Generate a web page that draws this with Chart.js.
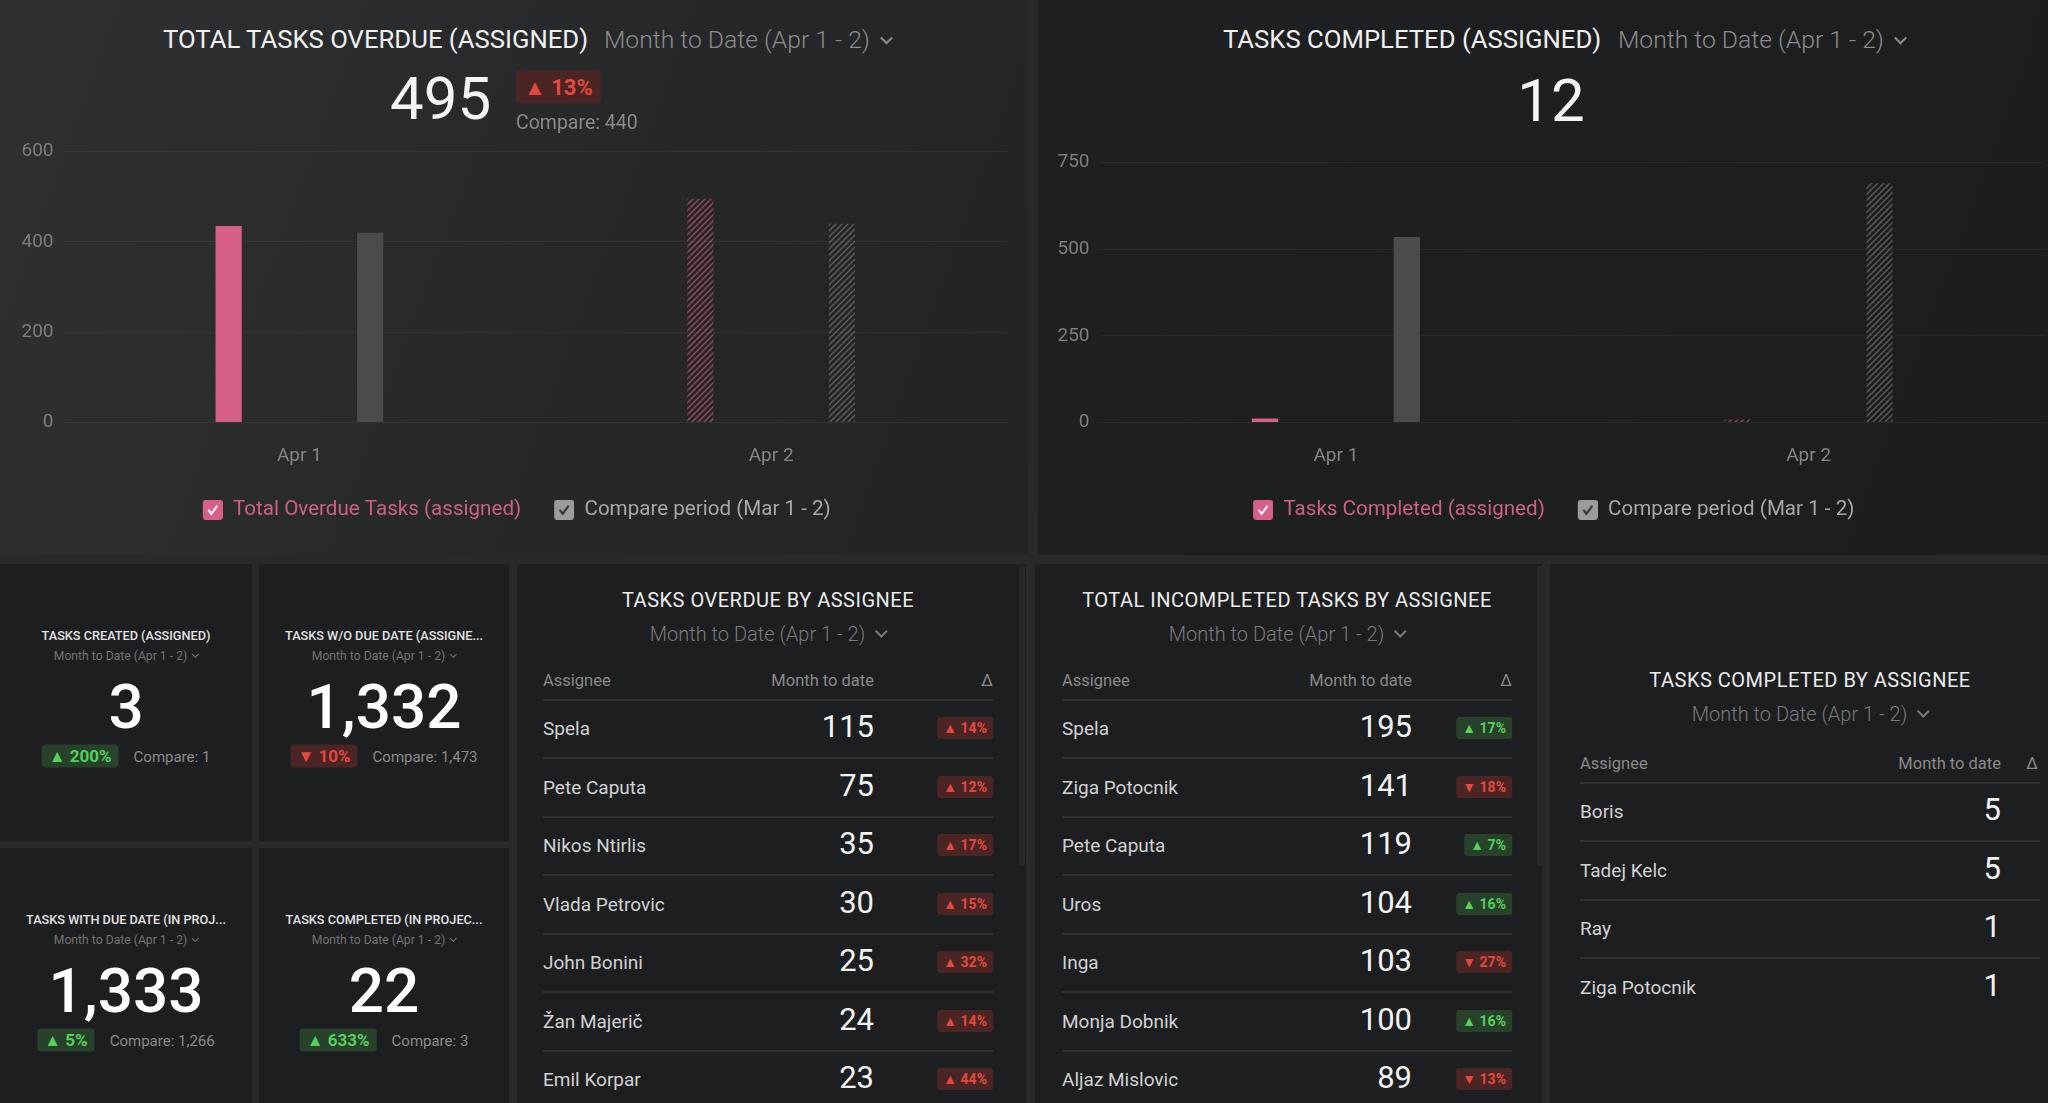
<!DOCTYPE html>
<html>
<head>
<meta charset="utf-8">
<script src="https://cdn.jsdelivr.net/npm/chart.js@4.4.1/dist/chart.umd.min.js"></script>
<style>
  body { margin: 0; width: 2048px; height: 1103px; overflow: hidden; position: relative;
         background: #28292b; font-family: Roboto, 'Noto Sans', sans-serif; }
  .panel { position: absolute; background: #1d1e20; }
  .chev { display: inline-block; width: 7px; height: 7px; border-right: 2px solid currentColor;
          border-bottom: 2px solid currentColor; transform: rotate(45deg); margin-left: 12px;
          position: relative; top: -5px; }
  .chev.sm { width: 4px; height: 4px; border-width: 1.5px; margin-left: 6px; top: -3px; }
  .badge { display: inline-block; border-radius: 3px; font-weight: 700; }
  .up-bad, .down-bad { background: #4a2523; color: #e4493f; }
  .up-good { background: #27412a; color: #55d05b; }
  .bar { position: absolute; background: #27282a; border-radius: 3px; }
  .chart-box { position: absolute; }
</style>
</head>
<body>
<div class="panel" style="left:0;top:0;width:1028px;height:555px;background:linear-gradient(110deg,#2f3032 0%,#262729 60%,#222325 100%)"></div>
<div class="panel" style="left:1038px;top:0;width:1010px;height:555px;background:linear-gradient(110deg,#1f2022,#1c1d1f)"></div>
<div class="panel" style="left:0;top:564px;width:252px;height:277px"></div>
<div class="panel" style="left:259px;top:564px;width:250px;height:277px"></div>
<div class="panel" style="left:0;top:848px;width:252px;height:255px"></div>
<div class="panel" style="left:259px;top:848px;width:250px;height:255px"></div>
<div class="panel" style="left:517px;top:564px;width:509px;height:539px"></div>
<div class="panel" style="left:1035px;top:564px;width:507px;height:539px"></div>
<div class="panel" style="left:1550px;top:564px;width:498px;height:539px"></div>
<div class="bar" style="left:1019px;top:566px;width:6px;height:300px"></div>
<div class="bar" style="left:1537px;top:566px;width:6px;height:300px"></div>

<div class="chart-box" style="left:0;top:130px;width:1028px;height:400px"><canvas id="overdueChart"></canvas></div>
<div class="chart-box" style="left:1038px;top:141px;width:1010px;height:389px"><canvas id="completedChart"></canvas></div>

<script>
// chart data
const days = ['Apr 1', 'Apr 2'];
const overdueCurrent = [435, 495];
const overdueCompare = [420, 440];
const overdueTicks = [0, 200, 400, 600];
const completedCurrent = [12, 0];
const completedCompare = [535, 690];
const completedTicks = [0, 250, 500, 750];

// KPI tiles
const kpiTitles = ['TASKS CREATED (ASSIGNED)', 'TASKS W/O DUE DATE (ASSIGNE...', 'TASKS WITH DUE DATE (IN PROJ...', 'TASKS COMPLETED (IN PROJEC...'];
const kpiValues = ['3', '1,332', '1,333', '22'];
const kpiChanges = [200, -10, 5, 633];
const kpiCompare = ['1', '1,473', '1,266', '3'];

// tables
const overdueNames = ['Spela', 'Pete Caputa', 'Nikos Ntirlis', 'Vlada Petrovic', 'John Bonini', 'Žan Majerič', 'Emil Korpar'];
const overdueValues = [115, 75, 35, 30, 25, 24, 23];
const overdueDeltas = [14, 12, 17, 15, 32, 14, 44];
const incompNames = ['Spela', 'Ziga Potocnik', 'Pete Caputa', 'Uros', 'Inga', 'Monja Dobnik', 'Aljaz Mislovic'];
const incompValues = [195, 141, 119, 104, 103, 100, 89];
const incompDeltas = [17, -18, 7, 16, -27, 16, -13];
const doneNames = ['Boris', 'Tadej Kelc', 'Ray', 'Ziga Potocnik'];
const doneValues = [5, 5, 1, 1];

const PINK = '#d6608a';
const MONTH = 'Month to Date (Apr 1 - 2)';

function put(html, x, y, align, css) {
  const d = document.createElement('div');
  d.innerHTML = html;
  const tx = align === 'right' ? '-100%' : align === 'center' ? '-50%' : '0';
  d.style.cssText = `position:absolute;left:${x}px;top:${y}px;transform:translate(${tx},-50%);white-space:nowrap;line-height:1;` + css;
  document.body.appendChild(d);
  return d;
}

function badge(v, upGood, css) {
  const cls = v >= 0 ? (upGood ? 'up-good' : 'up-bad') : 'down-bad';
  return `<span class="badge ${cls}" style="${css}">${v >= 0 ? '▲' : '▼'} ${Math.abs(v)}%</span>`;
}

// top headers
put('TOTAL TASKS OVERDUE (ASSIGNED)', 163, 40, 'left', 'font-size:25.7px;color:#f0f0f0;');
put(MONTH + '<span class="chev"></span>', 604, 40, 'left', 'font-size:24.7px;font-weight:300;color:#8c8c8c;');
put('495', 390, 99, 'left', 'font-size:60px;color:#f4f4f4;');
put(badge(13, false, 'font-size:22px;padding:6px 8px 5px 8px;'), 516, 87, 'left', '');
put('Compare: 440', 516, 123, 'left', 'font-size:19.5px;color:#8a8a8a;');

put('TASKS COMPLETED (ASSIGNED)', 1223, 40, 'left', 'font-size:25.7px;color:#f0f0f0;');
put(MONTH + '<span class="chev"></span>', 1618, 40, 'left', 'font-size:24.7px;font-weight:300;color:#8c8c8c;');
put('12', 1551, 101, 'center', 'font-size:60px;color:#f4f4f4;');

// KPI tiles
const tileX = [126, 384, 126, 384];
const tileY = [564, 564, 848, 848];
kpiTitles.forEach((t, i) => {
  const cx = tileX[i], ty = tileY[i];
  put(t, cx, ty + 72, 'center', 'font-size:12.7px;font-weight:500;color:#e4e4e4;');
  put(MONTH + '<span class="chev sm"></span>', cx, ty + 92, 'center', 'font-size:12.2px;color:#737373;');
  put(kpiValues[i], cx, ty + 143, 'center', 'font-size:62px;font-weight:500;color:#ffffff;');
  put(badge(kpiChanges[i], true, 'font-size:17px;padding:3px 7px;') +
      `<span style="margin-left:15px;font-size:15px;color:#8b8b8b;">Compare: ${kpiCompare[i]}</span>`,
      cx, ty + 192, 'center', '');
});

// tables
function table(cfg) {
  put(cfg.title, cfg.cx, cfg.titleY, 'center', 'font-size:20px;color:#ececec;letter-spacing:0.5px;');
  put(MONTH + '<span class="chev"></span>', cfg.cx, cfg.titleY + 34, 'center', 'font-size:20px;font-weight:300;color:#7a7a7a;');
  const hy = cfg.headY;
  const hcss = 'font-size:16.5px;color:#8a8a8a;';
  put('Assignee', cfg.x0, hy, 'left', hcss);
  put('Month to date', cfg.valRight, hy, 'right', hcss);
  put('Δ', cfg.deltaRight, hy, 'right', hcss);
  const line = y => {
    const d = document.createElement('div');
    d.style.cssText = `position:absolute;left:${cfg.x0}px;top:${y}px;width:${cfg.x1 - cfg.x0}px;height:2px;background:#303133;`;
    document.body.appendChild(d);
  };
  line(hy + 18);
  cfg.names.forEach((n, i) => {
    const y = hy + 47 + i * 58.5;
    put(n, cfg.x0, y, 'left', 'font-size:19px;color:#d2d2d2;');
    put(String(cfg.values[i]), cfg.valRight, y - 2, 'right', 'font-size:31px;color:#f2f2f2;');
    if (cfg.deltas) put(badge(cfg.deltas[i], cfg.upGood, 'font-size:14px;padding:4px 6px;'), cfg.deltaRight, y, 'right', '');
    if (i < cfg.names.length - 1) line(y + 29);
  });
}
table({ title: 'TASKS OVERDUE BY ASSIGNEE', cx: 768, titleY: 600, headY: 681, x0: 543, x1: 993, valRight: 874, deltaRight: 993,
        names: overdueNames, values: overdueValues, deltas: overdueDeltas, upGood: false });
table({ title: 'TOTAL INCOMPLETED TASKS BY ASSIGNEE', cx: 1287, titleY: 600, headY: 681, x0: 1062, x1: 1512, valRight: 1412, deltaRight: 1512,
        names: incompNames, values: incompValues, deltas: incompDeltas, upGood: true });
table({ title: 'TASKS COMPLETED BY ASSIGNEE', cx: 1810, titleY: 680, headY: 764, x0: 1580, x1: 2040, valRight: 2001, deltaRight: 2038,
        names: doneNames, values: doneValues, deltas: null });

// charts
function hatch(color) {
  const c = document.createElement('canvas');
  c.width = c.height = 6;
  const g = c.getContext('2d');
  g.strokeStyle = color;
  g.lineWidth = 1.5;
  g.beginPath();
  g.moveTo(0, 6); g.lineTo(6, 0);
  g.moveTo(-3, 3); g.lineTo(3, -3);
  g.moveTo(3, 9); g.lineTo(9, 3);
  g.stroke();
  return g.createPattern(c, 'repeat');
}

// legend checkbox; "lead" is empty room left of the box so the items sit apart
const LEAD = 15;
function checkbox(fill, tick) {
  const c = document.createElement('canvas');
  c.width = 20 + LEAD; c.height = 20;
  const g = c.getContext('2d');
  g.translate(LEAD, 0);
  g.fillStyle = fill;
  g.beginPath(); g.roundRect(0, 0, 20, 20, 3); g.fill();
  g.strokeStyle = tick; g.lineWidth = 2;
  g.beginPath(); g.moveTo(5.5, 10); g.lineTo(8.5, 14); g.lineTo(14.5, 6); g.stroke();
  return c;
}

Chart.defaults.font.family = 'Roboto';
const pinkHatch = hatch('rgba(214,96,138,0.6)');
const grayHatch = hatch('rgba(110,110,110,0.75)');
const pinkBox = checkbox(PINK, '#ffffff');
const grayBox = checkbox('#9c9c9c', '#2a2a2a');
const last = days.length - 1;

function barChart(id, cur, cmp, ticks, curLabel, pad) {
  new Chart(document.getElementById(id), {
    type: 'bar',
    data: {
      labels: days,
      datasets: [
        { label: curLabel, data: cur, minBarLength: id === 'completedChart' ? 3 : 0,
          backgroundColor: c => c.dataIndex === last ? pinkHatch : PINK },
        { label: 'Compare period (Mar 1 - 2)', data: cmp,
          backgroundColor: c => c.dataIndex === last ? grayHatch : '#4a4b4d' }
      ]
    },
    options: {
      responsive: true, maintainAspectRatio: false, animation: false,
      categoryPercentage: 0.6, barPercentage: 0.185,
      layout: { padding: { left: pad.left, right: pad.right, top: 10, bottom: 0 } },
      plugins: {
        tooltip: { enabled: false },
        legend: {
          position: 'bottom',
          labels: {
            usePointStyle: true, pointStyleWidth: 20 + LEAD, boxHeight: 20, padding: 18,
            font: { size: 20.6 },
            generateLabels: chart => chart.data.datasets.map((ds, i) => ({
              text: ds.label, datasetIndex: i, hidden: false,
              pointStyle: i === 0 ? pinkBox : grayBox,
              fontColor: i === 0 ? '#cf5f86' : '#a8a8a8',
              fillStyle: 'transparent', strokeStyle: 'transparent', lineWidth: 0
            }))
          }
        }
      },
      scales: {
        x: {
          grid: { display: false }, border: { display: false },
          ticks: { color: '#858585', font: { size: 19 }, padding: 14 }
        },
        y: {
          min: ticks[0], max: ticks[ticks.length - 1],
          afterBuildTicks: axis => { axis.ticks = ticks.map(v => ({ value: v })); },
          grid: { color: 'rgba(255,255,255,0.05)', drawTicks: false }, border: { display: false },
          ticks: { color: '#7e7e7e', font: { size: 19 }, padding: 10 }
        }
      }
    }
  });
}

barChart('overdueChart', overdueCurrent, overdueCompare, overdueTicks, 'Total Overdue Tasks (assigned)', { left: 11.5, right: 21 });
barChart('completedChart', completedCurrent, completedCompare, completedTicks, 'Tasks Completed (assigned)', { left: 9.5, right: 3 });
</script>
</body>
</html>
